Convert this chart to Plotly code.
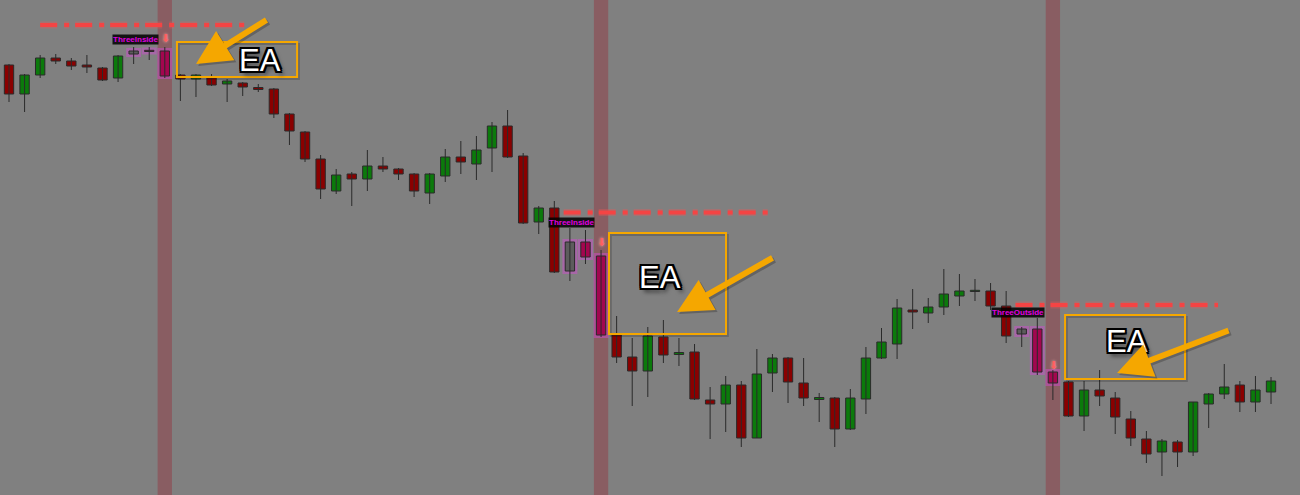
import plotly.graph_objects as go

# ---------------- data (price units) ----------------
open_ = [430, 401, 420, 437, 434, 430, 427, 417, 444, 444.5, 444, 420, 416, 417, 411, 412, 407.5, 406, 381, 363,
         336, 304, 321, 316, 329, 326, 321, 302, 319, 338, 331, 347, 369, 339, 273, 287, 253, 253, 239, 160,
         138, 124, 158, 140.5, 143, 95, 91, 110, 57, 122, 137, 112, 95.5, 97, 66, 96, 137, 151, 185, 182,
         188, 199, 203.5, 204, 189, 166, 166, 123, 113, 79, 105, 97, 76, 56, 43, 53, 43, 91, 101, 110,
         93, 103]
high = [431, 421, 440, 441, 437, 440, 428, 440, 448, 448, 448, 421, 421, 421, 416, 413, 411, 407, 382, 364,
        340, 326, 323, 345, 338, 327, 322, 322, 346, 354, 359, 373, 385, 342, 289, 294, 267, 265, 245, 179,
        157, 168, 175, 157, 151, 108, 119, 114, 146, 141, 138, 137, 102, 98, 106, 148, 167, 196, 206, 197,
        226, 221, 216, 212, 204, 168, 177, 125, 114, 114, 125, 103, 84, 64, 56, 55, 93, 102, 131, 114,
        119, 118]
low = [393, 383, 417, 431, 425, 422, 414, 413, 431, 435, 417, 394, 398, 409, 393, 399, 403, 377, 350, 333,
       296, 301, 289, 304, 323, 315, 298, 291, 313, 321, 315, 323, 337, 271, 261, 222, 214, 231, 158, 132,
       89, 98, 132, 129, 95, 56, 63, 48, 57, 103, 92, 89, 73, 48, 65, 81, 136, 136, 166, 172,
       180, 189, 194, 185, 152, 148, 120, 95, 78, 64, 89, 61, 49, 32, 19, 28, 39, 67, 96, 83,
       83, 91]
close = [401, 420, 437, 434, 429, 428, 415, 439, 441, 443.5, 419, 416, 420, 410, 414, 408, 405.5, 381, 364, 336,
         306, 320, 316, 329, 326, 321, 304, 321, 338, 333, 345, 369, 338, 272, 287, 223, 224, 238, 160, 138,
         124, 159, 140, 142.5, 96, 91, 110, 57, 121, 137, 113, 97, 97.5, 66, 97, 137, 153, 187, 183, 188,
         201, 204, 204, 189, 159, 161, 123, 112, 79, 105, 99, 78, 57, 41, 54, 43, 93, 101, 108, 93,
         105, 114]

# candlestick patterns: (candle indices, label, label position)
pattern_candles = [[8, 9, 10], [36, 37, 38], [65, 66, 67]]
pattern_labels = ["ThreeInside", "ThreeInside", "ThreeOutside"]
label_x = [8.15, 36.1, 64.76]
label_y = [456, 273, 183]
signal_arrow_y = [457, 252.5, 130]

# resistance dashed levels
level_price = [470, 282.5, 190]
level_start = [2.0, 35.6, 64.6]
level_end = [15.1, 48.7, 77.6]

# "EA" call-out boxes and arrows
ea_box_x0 = [10.78, 38.51, 67.78]
ea_box_x1 = [18.49, 46.02, 75.48]
ea_box_y0 = [418, 161, 116]
ea_box_y1 = [453, 262, 180]
ea_text_x = [16.1, 41.8, 71.75]
ea_text_y = [435, 217.5, 154]
arrow_tail_x = [16.62, 49.1, 78.37]
arrow_tail_y = [476, 238, 165]
arrow_head_x = [12.0, 42.88, 71.12]
arrow_head_y = [431, 183, 122]

# ---------------- styles ----------------
BG = "#808080"
UP = "#0b7a0b"
DOWN = "#8a0000"
PAT_GRAY = "#5c5c5c"
PAT_MAG = "#a3064f"
EDGE = "#2a2a2a"
ORANGE = "#f5a700"
DASH = "17px,7px,5px,6px"

n = len(open_)
xs = list(range(n))

colors = []
for i in range(n):
    colors.append(UP if close[i] > open_[i] else DOWN)
for grp in pattern_candles:
    colors[grp[0]] = PAT_GRAY
    for j in grp[1:]:
        colors[j] = PAT_MAG

body_base = [min(o, c) for o, c in zip(open_, close)]
body_h = [max(abs(c - o), 1.2) for o, c in zip(open_, close)]

fig = go.Figure()

# wicks
wx, wy = [], []
for i in range(n):
    wx += [i, i, None]
    wy += [low[i], high[i], None]
fig.add_trace(go.Scatter(x=wx, y=wy, mode="lines", line=dict(color=EDGE, width=1),
                         hoverinfo="skip", showlegend=False))

# bodies
fig.add_trace(go.Bar(x=xs, y=body_h, base=body_base, width=0.6,
                     marker=dict(color=colors, line=dict(color=EDGE, width=1)),
                     showlegend=False, hoverinfo="skip"))

shapes = []
# signal bands (full-height) on the last candle of each pattern
for grp in pattern_candles:
    k = grp[-1]
    shapes.append(dict(type="rect", xref="x", yref="paper", x0=k - 0.46, x1=k + 0.46, y0=0, y1=1,
                       fillcolor="rgba(150,45,58,0.42)", line=dict(width=0), layer="below"))
# pattern highlight boxes
for grp in pattern_candles:
    for k in grp:
        shapes.append(dict(type="rect", xref="x", yref="y", x0=k - 0.48, x1=k + 0.48,
                           y0=min(open_[k], close[k]) - 3, y1=max(open_[k], close[k]) + 3,
                           fillcolor="rgba(215,70,215,0.45)", line=dict(width=0), layer="below"))
# EA boxes (soft shadow + box)
for a, b, c, d in zip(ea_box_x0, ea_box_x1, ea_box_y0, ea_box_y1):
    shapes.append(dict(type="rect", xref="x", yref="y", x0=a + 0.12, x1=b + 0.12, y0=c - 2, y1=d - 2,
                       line=dict(color="rgba(0,0,0,0.18)", width=2), fillcolor="rgba(0,0,0,0)", layer="above"))
    shapes.append(dict(type="rect", xref="x", yref="y", x0=a, x1=b, y0=c, y1=d,
                       line=dict(color=ORANGE, width=2), fillcolor="rgba(0,0,0,0)", layer="above"))

# dashed levels (glow + line)
for p, s, e in zip(level_price, level_start, level_end):
    fig.add_trace(go.Scatter(x=[s, e], y=[p, p], mode="lines",
                             line=dict(color="rgba(255,80,80,0.30)", width=7, dash=DASH),
                             hoverinfo="skip", showlegend=False))
    fig.add_trace(go.Scatter(x=[s, e], y=[p, p], mode="lines",
                             line=dict(color="#f44444", width=4, dash=DASH),
                             hoverinfo="skip", showlegend=False))

annotations = []
for lx, ly, txt in zip(label_x, label_y, pattern_labels):
    annotations.append(dict(x=lx, y=ly, xref="x", yref="y", text="<b>" + txt + "</b>", showarrow=False,
                            font=dict(family="Liberation Sans", size=8, color="#e000e0"),
                            bgcolor="rgba(0,0,0,0.85)", borderpad=0))
for grp, ay in zip(pattern_candles, signal_arrow_y):
    annotations.append(dict(x=grp[-1] + 0.05, y=ay, xref="x", yref="y", text="⬇", showarrow=False,
                            font=dict(family="DejaVu Sans", size=11, color="#ff5f5f",
                                      shadow="0 0 3px #ffb0b0")))

# EA text: white fill with black outline and soft drop shadow (CSS text-shadow)
EA_SHADOW = ("-2px 0 0 #000, 2px 0 0 #000, 0 -2px 0 #000, 0 2px 0 #000, "
             "-2px -2px 0 #000, 2px 2px 0 #000, -2px 2px 0 #000, 2px -2px 0 #000, "
             "3px 4px 4px rgba(0,0,0,0.6)")
for tx, ty in zip(ea_text_x, ea_text_y):
    annotations.append(dict(x=tx, y=ty, xref="x", yref="y", text="EA", showarrow=False,
                            font=dict(family="Liberation Sans", size=31, color="white", shadow=EA_SHADOW)))

# orange arrows with drop shadow
for hx, hy, tx, ty in zip(arrow_head_x, arrow_head_y, arrow_tail_x, arrow_tail_y):
    annotations.append(dict(x=hx, y=hy, xref="x", yref="y", ax=tx, ay=ty, axref="x", ayref="y",
                            text="", showarrow=True, arrowhead=2, arrowsize=1.15, arrowwidth=6,
                            arrowcolor="rgba(0,0,0,0.22)", standoff=0, startstandoff=0,
                            xshift=2, yshift=-2))
    annotations.append(dict(x=hx, y=hy, xref="x", yref="y", ax=tx, ay=ty, axref="x", ayref="y",
                            text="", showarrow=True, arrowhead=2, arrowsize=1.15, arrowwidth=6,
                            arrowcolor=ORANGE, standoff=0, startstandoff=0))

fig.update_layout(
    width=1300, height=495,
    margin=dict(l=0, r=0, t=0, b=0),
    paper_bgcolor=BG, plot_bgcolor=BG,
    barmode="overlay",
    xaxis=dict(range=[-0.578, 82.86], visible=False, fixedrange=True),
    yaxis=dict(range=[0, 495], visible=False, fixedrange=True),
    shapes=shapes, annotations=annotations,
    showlegend=False,
)

fig.write_html("out.html", config=dict(displayModeBar=False),
               post_script="document.body.style.margin='0';document.body.style.overflow='hidden';")
